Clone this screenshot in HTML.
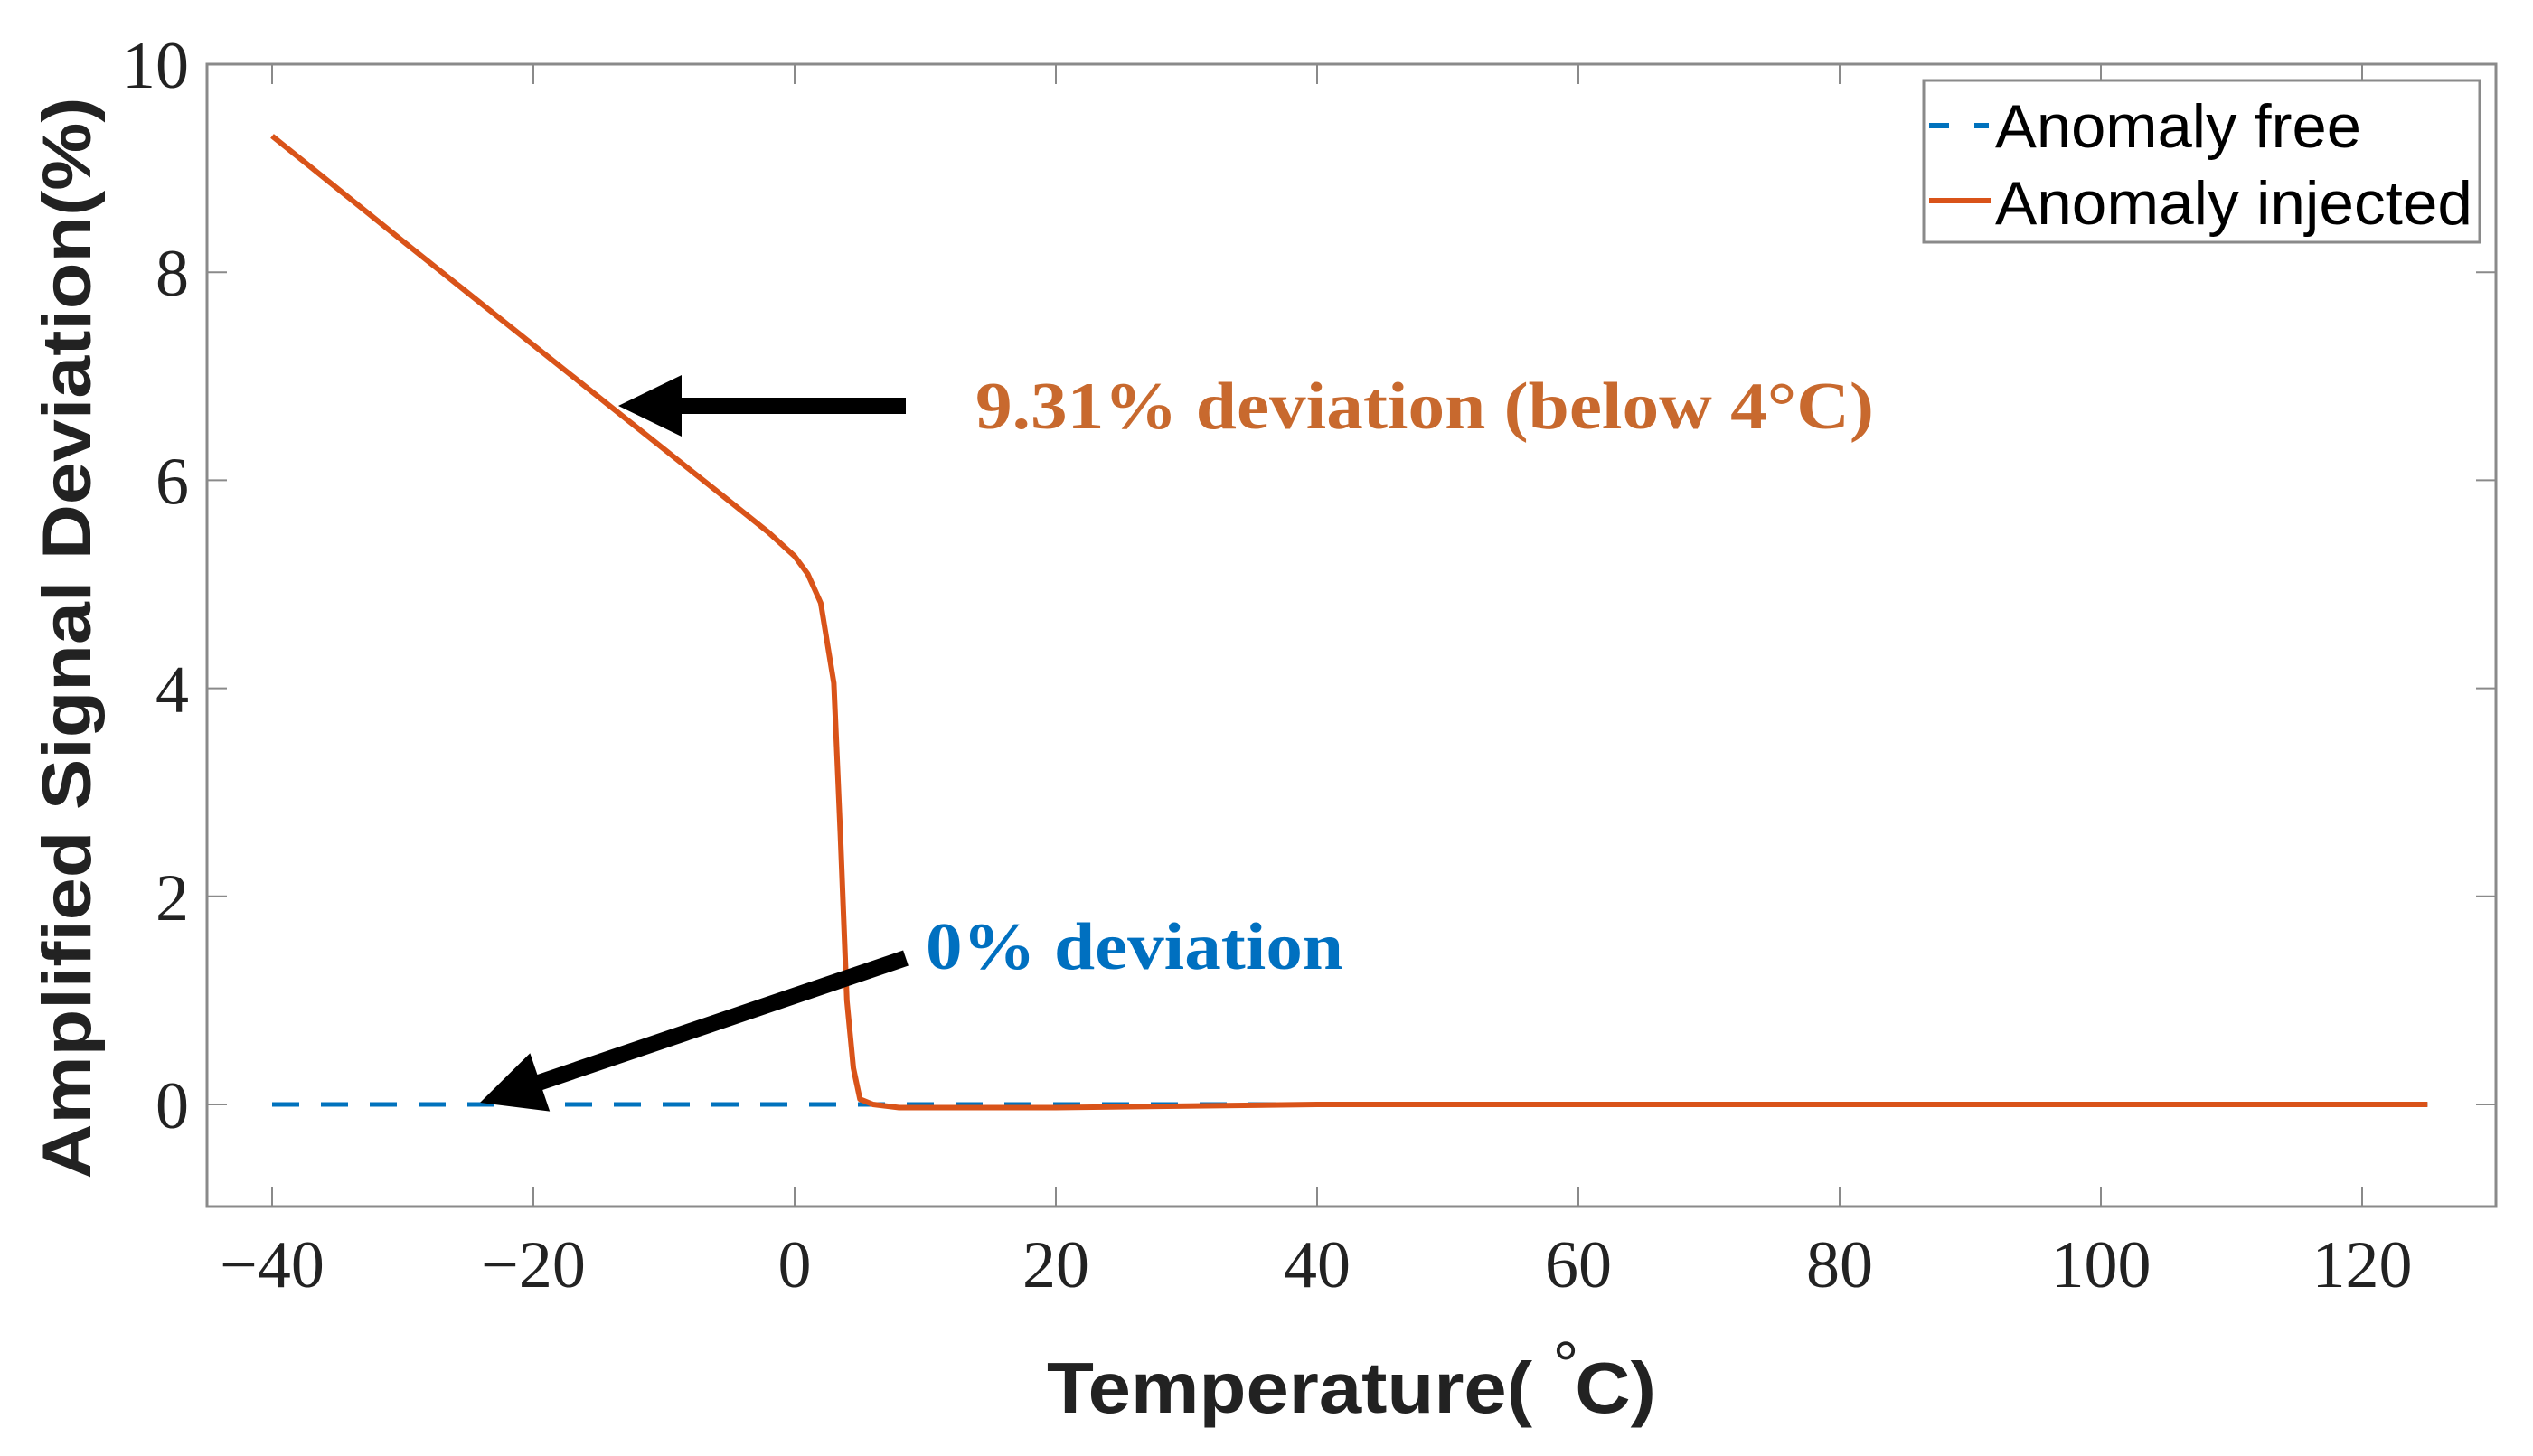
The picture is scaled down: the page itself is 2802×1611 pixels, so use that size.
<!DOCTYPE html>
<html><head><meta charset="utf-8"><style>
html,body{margin:0;padding:0;background:#fff;}
svg{display:block;}
</style></head><body>
<svg id="chart" width="2802" height="1611" viewBox="0 0 2802 1611" xmlns="http://www.w3.org/2000/svg">
<rect x="0" y="0" width="2802" height="1611" fill="#fff"/>
<g id="plot"></g>
</svg>
<script>
const xTicks = [-40, -20, 0, 20, 40, 60, 80, 100, 120];
const xTickLabels = ["\u221240", "\u221220", "0", "20", "40", "60", "80", "100", "120"];
const yTicks = [0, 2, 4, 6, 8, 10];
const yTickLabels = ["0", "2", "4", "6", "8", "10"];
const freeX = [-40, 125];
const freeY = [0, 0];
const injX = [-40, -30, -20, -10, -5, -2, 0, 1, 2, 3, 3.5, 4, 4.5, 5, 6, 8, 20, 40, 80, 125];
const injY = [9.31, 8.3, 7.3, 6.3, 5.8, 5.5, 5.27, 5.1, 4.82, 4.05, 2.6, 1.0, 0.35, 0.05, 0.0, -0.03, -0.03, 0.0, 0.0, 0.0];

const L = 229, R = 2761, T = 71, B = 1335;
const X0 = 879, XPU = 289 / 20;
const Y0 = 1222, YPU = 115.1;
function sx(v) { return X0 + v * XPU; }
function sy(v) { return Y0 - v * YPU; }

const NS = "http://www.w3.org/2000/svg";
const svg = document.getElementById('chart');
function mk(tag, attrs, parent) {
  const e = document.createElementNS(NS, tag);
  for (const k in attrs) e.setAttribute(k, attrs[k]);
  (parent || svg).appendChild(e);
  return e;
}

const box = mk('rect', {x: L, y: T, width: R - L, height: B - T, fill: 'none', stroke: '#8a8a8a', 'stroke-width': 3});



xTicks.forEach((v, i) => {
  const x = sx(v);
  const t1 = mk('line', {x1: x, y1: B, x2: x, y2: B - 22, stroke: '#8a8a8a', 'stroke-width': 2});
  
  
  const t2 = mk('line', {x1: x, y1: T, x2: x, y2: T + 22, stroke: '#8a8a8a', 'stroke-width': 2});
  
  
  const lb = mk('text', {x: x, y: 1424, 'text-anchor': 'middle', 'font-family': 'Liberation Serif, serif', 'font-size': 74, fill: '#222'});
  lb.textContent = xTickLabels[i];
  
  
});
yTicks.forEach((v, i) => {
  const y = sy(v);
  const t1 = mk('line', {x1: L, y1: y, x2: L + 22, y2: y, stroke: '#8a8a8a', 'stroke-width': 2});
  
  
  const t2 = mk('line', {x1: R, y1: y, x2: R - 22, y2: y, stroke: '#8a8a8a', 'stroke-width': 2});
  
  
  const lb = mk('text', {x: 209, y: y + 26, 'text-anchor': 'end', 'font-family': 'Liberation Serif, serif', 'font-size': 74, fill: '#222'});
  lb.textContent = yTickLabels[i];
  
  
});

function pts(xs, ys) { return xs.map((v, i) => sx(v).toFixed(1) + ',' + sy(ys[i]).toFixed(1)).join(' '); }
const free = mk('polyline', {points: pts(freeX, freeY), fill: 'none', stroke: '#0072BD', 'stroke-width': 5, 'stroke-dasharray': '30 24'});


const inj = mk('polyline', {points: pts(injX, injY), fill: 'none', stroke: '#D95319', 'stroke-width': 6, 'stroke-linejoin': 'round'});



function arrow(x1, y1, x2, y2, name) {
  const g = mk('g', {});
  
  
  const dx = x2 - x1, dy = y2 - y1, len = Math.hypot(dx, dy);
  const ux = dx / len, uy = dy / len, px = -uy, py = ux;
  const hl = 70, hw = 34;
  const bx = x2 - ux * hl, by = y2 - uy * hl;
  mk('line', {x1: x1, y1: y1, x2: bx + ux * 5, y2: by + uy * 5, stroke: '#000', 'stroke-width': 18}, g);
  mk('polygon', {points: `${x2},${y2} ${bx + px * hw},${by + py * hw} ${bx - px * hw},${by - py * hw}`, fill: '#000'}, g);
}
arrow(1002, 449, 684, 449, 'arrow-injected');
arrow(1002, 1060, 531, 1220, 'arrow-free');

const a1 = mk('text', {x: 1079, y: 474, 'font-family': 'Liberation Serif, serif', 'font-weight': 'bold', 'font-size': 74, fill: '#C8692E', textLength: 994, lengthAdjust: 'spacingAndGlyphs'});
a1.textContent = '9.31% deviation (below 4\u00B0C)';


const a2 = mk('text', {x: 1024, y: 1072, 'font-family': 'Liberation Serif, serif', 'font-weight': 'bold', 'font-size': 74, fill: '#0070C0', textLength: 462, lengthAdjust: 'spacingAndGlyphs'});
a2.textContent = '0% deviation';



const lg = mk('g', {});


mk('rect', {x: 2128, y: 89, width: 615, height: 179, fill: '#fff', stroke: '#8a8a8a', 'stroke-width': 3}, lg);
mk('line', {x1: 2134, y1: 139, x2: 2200, y2: 139, stroke: '#0072BD', 'stroke-width': 6, 'stroke-dasharray': '22 28'}, lg);
mk('line', {x1: 2134, y1: 222, x2: 2202, y2: 222, stroke: '#D95319', 'stroke-width': 6}, lg);
const l1 = mk('text', {x: 2207, y: 163, 'font-family': 'Liberation Sans, sans-serif', 'font-size': 68, fill: '#000', textLength: 405, lengthAdjust: 'spacingAndGlyphs'}, lg);
l1.textContent = 'Anomaly free';


const l2 = mk('text', {x: 2207, y: 248, 'font-family': 'Liberation Sans, sans-serif', 'font-size': 68, fill: '#000', textLength: 528, lengthAdjust: 'spacingAndGlyphs'}, lg);
l2.textContent = 'Anomaly injected';



const xt = mk('text', {x: 1158, y: 1563, 'font-family': 'Liberation Sans, sans-serif', 'font-weight': 'bold', 'font-size': 80, fill: '#222', textLength: 674, lengthAdjust: 'spacingAndGlyphs'});
xt.textContent = 'Temperature( \u00A0C)';


const deg = mk('text', {x: 1732, y: 1535, 'font-family': 'Liberation Sans, sans-serif', 'font-size': 72, fill: '#222', 'text-anchor': 'middle'});
deg.textContent = '\u00B0';


const yt = mk('text', {x: 0, y: 0, transform: 'translate(100,706) rotate(-90)', 'text-anchor': 'middle', 'font-family': 'Liberation Sans, sans-serif', 'font-weight': 'bold', 'font-size': 76, fill: '#222', textLength: 1197, lengthAdjust: 'spacingAndGlyphs'});
yt.textContent = 'Amplified Signal Deviation(%)';


</script>
</body></html>
